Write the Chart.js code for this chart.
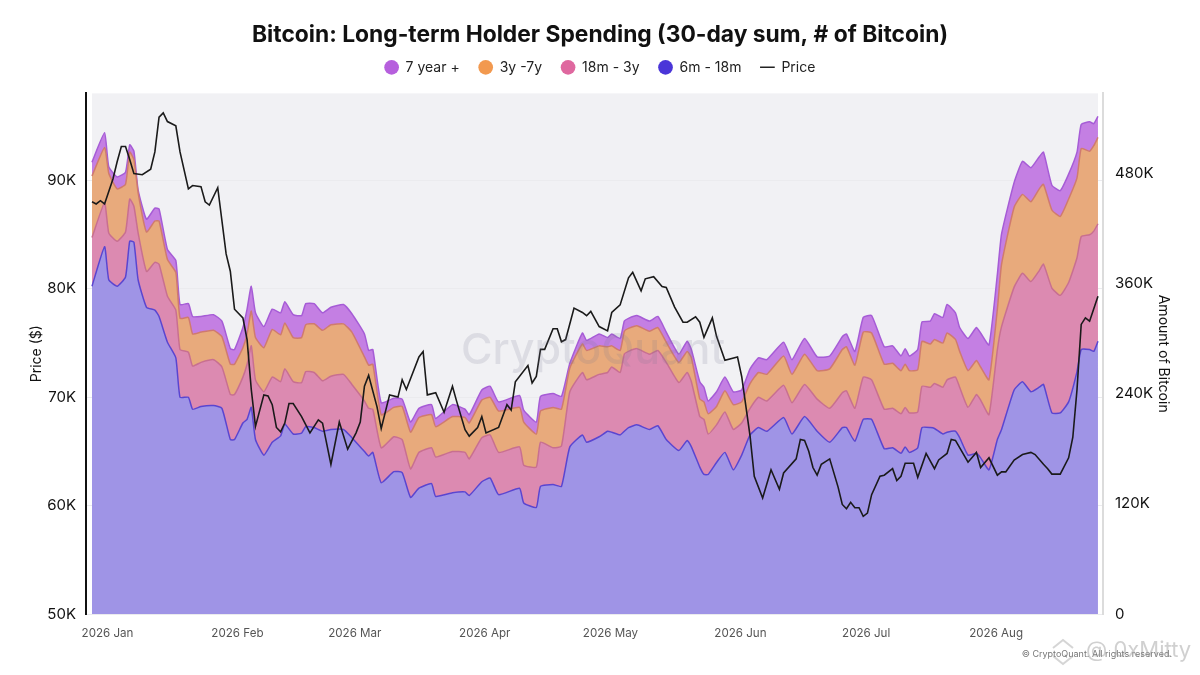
<!DOCTYPE html>
<html>
<head>
<meta charset="utf-8">
<title>Bitcoin: Long-term Holder Spending</title>
<script src="https://cdn.jsdelivr.net/npm/chart.js@4"></script>
<style>
  html, body { margin: 0; padding: 0; background: #fff; }
  canvas { display: block; }
</style>
</head>
<body>
<canvas id="chart" width="1200" height="675"></canvas>
<script>
// days counted from the left edge of the data, amounts in thousands of BTC
const days = [
  0,3,4,6,8,9,10,11,13,15,
  16,18,20,21,23,24,26,29,31,33,
  34,36,37,38,39,41,43,45,46,48,
  50,51,53,55,57,60,62,65,66,67,
  69,72,74,76,78,81,82,86,89,90,
  93,95,97,102,103,106,107,110,112,114,
  117,118,121,123,124,126,127,128,130,133,
  135,137,140,142,143,145,146,147,149,151,
  153,155,157,159,161,165,167,170,173,176,
  179,180,182,184,186,189,191,193,194,195,
  197,198,200,201,203,204,206,207,209,211,
  212,214,216,217,220,222,224,226,227,229,
  231,233,235,236,238,239,240
];
const amount6m18m = [
  357,400,364,357,367,406,405,364,334,331,
  324,296,279,236,236,223,226,227,224,190,
  190,208,212,225,190,173,187,194,207,196,
  197,204,203,199,201,201,192,177,172,176,
  143,155,154,127,137,142,128,132,133,129,
  144,148,130,137,121,116,139,141,139,182,
  195,187,193,199,198,195,199,203,206,201,
  205,190,178,189,182,160,152,152,165,176,
  157,173,195,203,199,214,196,215,199,187,
  203,203,188,212,212,180,181,175,182,176,
  181,203,203,202,196,198,199,192,173,175,
  170,157,190,201,244,253,242,247,250,219,
  219,231,264,288,288,286,297
];
const amount18m3y = [
  53,48,51,49,49,46,39,51,39,52,
  57,50,52,52,49,47,48,50,45,49,
  49,50,60,67,65,69,71,59,60,57,
  55,60,60,55,58,60,58,55,52,47,
  38,38,36,31,39,39,43,45,43,40,
  48,47,46,45,41,44,48,40,44,60,
  68,68,68,64,71,68,84,83,83,82,
  82,84,74,74,71,55,60,44,41,44,
  44,35,29,33,33,35,34,35,35,37,
  38,40,36,46,43,43,43,43,43,43,
  39,45,44,49,51,57,59,55,52,64,
  63,60,98,112,112,118,120,127,131,136,
  128,130,124,123,125,131,128
];
const amount3y7y = [
  67,60,65,57,52,51,51,44,43,45,
  47,40,41,34,38,35,33,32,33,33,
  33,32,33,38,46,48,52,51,50,48,
  49,51,53,55,56,55,57,48,47,49,
  36,32,36,40,38,36,33,38,38,39,
  41,41,45,43,47,36,34,44,40,26,
  31,32,31,28,23,24,25,25,25,25,
  25,22,22,23,26,19,19,22,20,23,
  27,23,27,27,29,32,31,33,31,43,
  47,48,47,49,51,49,49,47,47,46,
  46,49,47,48,48,51,41,39,40,37,
  36,38,44,68,87,86,87,89,87,85,
  86,91,87,96,91,93,94
];
const amount7yPlus = [
  15,16,7,13,13,8,9,3,14,14,
  13,11,13,15,15,19,17,17,17,17,
  16,22,27,27,27,23,22,24,23,25,
  24,23,22,19,19,21,20,25,16,16,
  13,10,8,11,10,11,9,13,9,9,
  11,12,10,13,13,13,16,15,14,5,
  12,11,13,10,13,13,11,11,11,11,
  12,11,9,11,9,19,16,14,16,15,
  14,13,16,16,16,15,16,17,15,14,
  14,14,15,16,19,19,19,16,17,16,
  22,21,25,28,28,31,29,26,35,36,
  37,38,38,33,27,36,37,35,35,27,
  28,27,28,26,32,24,23
];

// price in thousands of dollars
const priceDays = [
  0,1,2,3,5,6,7,8,9,10,
  12,14,15,16,17,18,20,21,23,24,
  26,27,28,30,32,33,34,36,37,38,
  39,41,42,43,44,45,46,47,48,50,
  52,54,55,57,59,61,63,64,65,66,
  68,69,71,73,74,75,78,79,80,82,
  84,86,87,89,90,92,93,94,97,99,
  100,101,104,105,106,107,108,110,111,112,
  113,115,117,118,119,121,123,124,126,128,
  129,131,132,134,136,137,139,141,142,144,
  145,146,148,149,151,154,155,157,158,160,
  162,164,165,168,169,170,171,172,173,174,
  176,178,179,180,181,182,183,184,185,186,
  188,189,191,192,193,194,196,197,199,201,
  202,204,205,206,209,211,212,214,216,217,
  218,220,222,224,225,227,228,229,231,233,
  234,235,236,237,238,240
];
const priceValues = [
  88.0,87.8,88.1,87.8,90.1,91.7,93.1,93.1,91.9,90.6,
  90.5,91.0,92.6,95.8,96.2,95.4,95.0,92.6,89.2,89.5,
  89.4,88.0,87.7,89.3,83.2,81.6,78.1,77.3,75.3,70.7,
  67.3,70.2,70.1,69.3,67.2,66.8,67.6,69.4,69.4,68.2,
  66.7,67.9,67.6,63.8,67.7,65.2,66.7,67.7,71.0,72.0,
  69.1,67.1,70.2,70.0,71.6,70.7,73.7,74.2,70.2,70.4,
  68.6,71.0,69.6,67.0,66.4,67.2,68.2,66.7,67.2,69.3,
  68.8,71.4,72.9,71.3,71.9,74.4,74.4,76.3,76.3,75.1,
  75.3,78.2,77.8,77.5,77.9,76.5,76.1,77.8,78.5,81.0,
  81.5,79.8,80.9,81.1,80.2,80.1,78.3,76.9,76.9,77.4,
  76.9,75.5,77.3,75.6,73.4,73.7,71.9,66.4,62.7,60.7,
  63.3,61.5,63.0,64.3,66.1,66.0,65.0,63.5,62.8,63.8,
  64.3,61.7,60.1,59.7,60.3,59.8,59.8,59.0,59.3,61.0,
  62.7,62.8,63.4,62.3,62.7,63.9,63.9,62.6,64.8,63.4,
  64.2,64.8,66.1,66.0,64.0,64.9,63.5,64.4,62.8,63.1,
  63.1,64.2,64.7,64.9,64.7,63.8,63.4,62.9,62.9,64.4,
  66.3,70.7,76.7,77.3,77.0,79.3
];

const monthTicks = [3.7, 34.7, 62.7, 93.7, 123.7, 154.7, 184.7, 215.7];
const monthLabels = ["2026 Jan", "2026 Feb", "2026 Mar", "2026 Apr", "2026 May", "2026 Jun", "2026 Jul", "2026 Aug"];
const priceTicks = [50, 60, 70, 80, 90];
const amountTicks = [0, 120, 240, 360, 480];
const legendOrder = ["7 year +", "3y -7y", "18m - 3y", "6m - 18m", "Price"];
const legendColors = ["#b65fdd", "#f2994f", "#df689f", "#4a35d8", "#222222"];

const fontName = "Inter, 'Liberation Sans', sans-serif";

function points(xs, ys) {
  return xs.map((x, i) => ({ x: x, y: ys[i] }));
}

function band(label, values, fillColor, lineColor, fillTo) {
  return {
    label: label,
    data: points(days, values),
    yAxisID: "amount",
    backgroundColor: fillColor,
    borderColor: lineColor,
    borderWidth: 1.5,
    fill: fillTo,
    tension: 0.15,
    pointRadius: 0,
    order: 1,
  };
}

// grey panel behind the areas, and the watermark that sits on it
const panel = {
  id: "panel",
  beforeInit(chart) {
    // gap between the legend and the plot
    Chart.layouts.addBox(chart, {
      options: {},
      position: "top",
      weight: 0,
      fullSize: true,
      width: 0,
      height: 9,
      isHorizontal() {
        return true;
      },
      update(width) {
        this.width = width;
        this.height = 9;
      },
      draw() {},
    });
  },
  beforeDatasetsDraw(chart) {
    const ctx = chart.ctx;
    const area = chart.chartArea;
    const x = chart.scales.x;
    ctx.save();
    ctx.fillStyle = "#f1f1f4";
    ctx.globalCompositeOperation = "destination-over";
    ctx.fillRect(x.getPixelForValue(0), area.top, x.getPixelForValue(240) - x.getPixelForValue(0), area.bottom - area.top);
    ctx.restore();
  },
  afterDatasetsDraw(chart) {
    const ctx = chart.ctx;
    ctx.save();
    ctx.font = "500 43px " + fontName;
    ctx.fillStyle = "rgba(120,120,140,0.17)";
    ctx.textAlign = "center";
    ctx.textBaseline = "middle";
    ctx.fillText("CryptoQuant", 593, 351);
    ctx.restore();
  },
  afterDraw(chart) {
    const ctx = chart.ctx;
    ctx.save();
    ctx.font = "9px " + fontName;
    ctx.fillStyle = "#777";
    ctx.textAlign = "right";
    ctx.textBaseline = "middle";
    ctx.fillText("© CryptoQuant. All rights reserved.", 1172, 654);
    ctx.font = "22px " + fontName;
    ctx.fillStyle = "rgba(150,150,150,0.45)";
    ctx.textAlign = "left";
    ctx.fillText("@ 0xMitty", 1086, 650);
    // small logo mark left of the handle
    ctx.strokeStyle = "rgba(150,150,150,0.4)";
    ctx.lineWidth = 2;
    ctx.beginPath();
    ctx.moveTo(1053, 648);
    ctx.lineTo(1063, 640);
    ctx.lineTo(1073, 648);
    ctx.moveTo(1053, 656);
    ctx.lineTo(1063, 664);
    ctx.lineTo(1073, 656);
    ctx.stroke();
    ctx.restore();
  },
};

new Chart(document.getElementById("chart"), {
  type: "line",
  data: {
    datasets: [
      band("6m - 18m", amount6m18m, "#9f94e6", "#5a45d0", "origin"),
      band("18m - 3y", amount18m3y, "#dc8ab1", "#c86f90", "-1"),
      band("3y -7y", amount3y7y, "#e8aa7c", "#cf7a6f", "-1"),
      band("7 year +", amount7yPlus, "#c47fe3", "#a65cd6", "-1"),
      {
        label: "Price",
        data: points(priceDays, priceValues),
        yAxisID: "price",
        borderColor: "#1a1a1a",
        backgroundColor: "#1a1a1a",
        borderWidth: 1.6,
        fill: false,
        tension: 0,
        pointRadius: 0,
        order: 0,
      },
    ],
  },
  options: {
    responsive: false,
    animation: false,
    devicePixelRatio: 1,
    layout: { padding: 0 },
    plugins: {
      title: {
        display: true,
        text: "Bitcoin: Long-term Holder Spending (30-day sum, # of Bitcoin)",
        color: "#111",
        font: { family: fontName, size: 22.8, weight: "700" },
        padding: { top: 21, bottom: -7 },
      },
      legend: {
        position: "top",
        labels: {
          usePointStyle: true,
          boxHeight: 10.4,
          padding: 19,
          color: "#222",
          font: { family: fontName, size: 14 },
          sort: (a, b) => legendOrder.indexOf(a.text) - legendOrder.indexOf(b.text),
          generateLabels(chart) {
            return Chart.defaults.plugins.legend.labels.generateLabels(chart).map((item) => {
              const color = legendColors[legendOrder.indexOf(item.text)];
              item.fillStyle = color;
              item.strokeStyle = color;
              item.lineWidth = item.text === "Price" ? 1.5 : 0;
              item.pointStyle = item.text === "Price" ? "line" : "circle";
              return item;
            });
          },
        },
      },
      tooltip: { enabled: false },
    },
    scales: {
      x: {
        type: "linear",
        min: -1.43,
        max: 241.2,
        grid: { display: false },
        border: { display: false },
        afterBuildTicks(scale) {
          scale.ticks = monthTicks.map((v) => ({ value: v }));
        },
        afterFit(scale) {
          scale.height = 61;
        },
        ticks: {
          autoSkip: false,
          maxRotation: 0,
          color: "#555",
          padding: 5,
          font: { family: fontName, size: 11.6 },
          callback: (value, index) => monthLabels[index],
        },
      },
      price: {
        type: "linear",
        position: "left",
        min: 50,
        max: 98,
        border: { color: "#111", width: 2 },
        grid: { color: "#ebebee", drawTicks: false },
        afterBuildTicks(scale) {
          scale.ticks = priceTicks.map((v) => ({ value: v }));
        },
        afterFit(scale) {
          scale.width = 86;
        },
        title: {
          display: true,
          text: "Price ($)",
          color: "#111",
          font: { family: fontName, size: 14 },
          padding: { top: 28, bottom: 0 },
        },
        ticks: {
          color: "#111",
          padding: 10,
          font: { family: fontName, size: 15 },
          callback: (value) => value + "K",
        },
      },
      amount: {
        type: "linear",
        position: "right",
        stacked: true,
        min: 0,
        max: 567,
        border: { color: "#dcdcdc", width: 2 },
        grid: { display: false },
        afterBuildTicks(scale) {
          scale.ticks = amountTicks.map((v) => ({ value: v }));
        },
        afterFit(scale) {
          scale.width = 97;
        },
        title: {
          display: true,
          text: "Amount of Bitcoin",
          color: "#111",
          font: { family: fontName, size: 14 },
          padding: { top: 28, bottom: 0 },
        },
        ticks: {
          color: "#111",
          padding: 4,
          font: { family: fontName, size: 15 },
          callback: (value) => (value === 0 ? "0" : value + "K"),
        },
      },
    },
  },
  plugins: [panel],
});
</script>
</body>
</html>
